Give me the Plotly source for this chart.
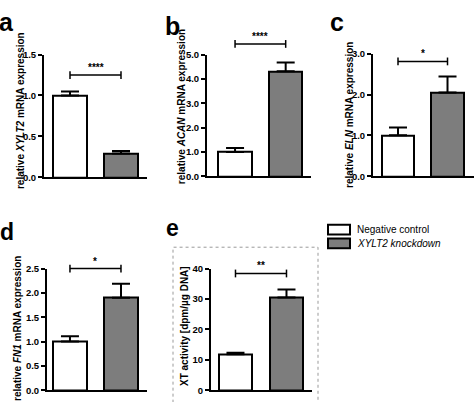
import plotly.graph_objects as go

W, H = 474, 402

# ---------------- data ----------------
groups = ["Negative control", "XYLT2 knockdown"]
group_labels = ["Negative control", "<i>XYLT2 knockdown</i>"]
x_pos = [0, 1]

xylt2_mean = [1.00, 0.29]
xylt2_sem = [0.05, 0.03]
acan_mean = [1.00, 4.32]
acan_sem = [0.16, 0.36]
eln_mean = [1.00, 2.05]
eln_sem = [0.19, 0.39]
fn1_mean = [1.00, 1.90]
fn1_sem = [0.11, 0.29]
xt_mean = [11.8, 30.5]
xt_sem = [0.5, 2.6]

panel_letters = ["a", "b", "c", "d", "e"]
y_titles = [
    "relative <i>XYLT2</i> mRNA expression",
    "relative <i>ACAN</i> mRNA expression",
    "relative <i>ELN</i> mRNA expression",
    "relative <i>FN1</i> mRNA expression",
    "XT activity [dpm/µg DNA]",
]
sig_labels = ["****", "****", "*", "*", "**"]
sig_levels = [1.25, 5.44, 2.81, 2.50, 38.4]
y_max = [1.5, 5.0, 3.0, 2.5, 40]
y_dtick = [0.5, 1.0, 1.0, 0.5, 10]
y_fmt = [".1f", ".1f", ".1f", ".1f", "d"]

means = [xylt2_mean, acan_mean, eln_mean, fn1_mean, xt_mean]
sems = [xylt2_sem, acan_sem, eln_sem, fn1_sem, xt_sem]

colors = ["#ffffff", "#7d7d7d"]

# ---------------- layout geometry (pixels) ----------------
boxes = [
    (44, 147, 50, 176),
    (207, 311, 50, 175),
    (373, 474, 49, 175),
    (47, 147, 270, 395),
    (211, 312, 270, 395),
]
x_ranges = [
    (-0.51, 1.51),
    (-0.554, 1.50),
    (-0.505, 1.535),
    (-0.45, 1.51),
    (-0.48, 1.50),
]
title_pos = [(20, 108), (181, 104), (350, 112), (18, 332), (185, 329)]
letter_pos = [(6, 27, 25), (172, 31, 25), (337, 27, 25), (7, 243, 23), (172, 238, 23)]

FONT = "Liberation Sans"


def px(x):
    return x / W


def py(y):
    return 1 - y / H


def b(s):
    return "<b>" + s + "</b>"


fig = go.Figure()
shapes = []
annotations = []

for i in range(5):
    xl, xr, yt, yb = boxes[i]
    sfx = "" if i == 0 else str(i + 1)
    xa, ya = "x" + sfx, "y" + sfx
    fig.add_trace(go.Bar(
        x=x_pos, y=means[i], width=0.66,
        marker=dict(color=colors, line=dict(color="black", width=2)),
        error_y=dict(type="data", array=sems[i], arrayminus=[0, 0], symmetric=False,
                     color="black", thickness=2, width=9),
        xaxis=xa, yaxis=ya, showlegend=False,
    ))
    fig.layout["xaxis" + sfx] = dict(
        domain=[px(xl), px(xr)], range=list(x_ranges[i]), anchor=ya,
        showline=True, linecolor="black", linewidth=2, showgrid=False,
        zeroline=False, showticklabels=False, ticks="", fixedrange=True,
    )
    fig.layout["yaxis" + sfx] = dict(
        domain=[py(yb), py(yt)], range=[0, y_max[i]], anchor=xa,
        showline=True, linecolor="black", linewidth=2, showgrid=False,
        zeroline=False, ticks="outside", ticklen=4, tickwidth=2, tickcolor="black",
        dtick=y_dtick[i], tick0=0, tickformat=y_fmt[i],
        tickprefix="<b>", ticksuffix="</b>",
        tickfont=dict(family=FONT, size=9.5, color="black"),
        fixedrange=True,
    )

    r0, r1 = x_ranges[i]

    def dx(v, xl=xl, xr=xr, r0=r0, r1=r1):
        return px(xl + (v - r0) / (r1 - r0) * (xr - xl))

    def dy(v, yt=yt, yb=yb, ym=y_max[i]):
        return py(yb - v / ym * (yb - yt))

    lvl = sig_levels[i]
    xa0, xa1 = dx(x_pos[0]), dx(x_pos[1])
    yl = dy(lvl)
    tk = 4 / H
    shapes.append(dict(type="line", xref="paper", yref="paper", x0=xa0, x1=xa1,
                       y0=yl, y1=yl, line=dict(color="black", width=1.5)))
    for xe in (xa0, xa1):
        shapes.append(dict(type="line", xref="paper", yref="paper", x0=xe, x1=xe,
                           y0=yl - tk, y1=yl + tk, line=dict(color="black", width=1.5)))
    annotations.append(dict(text=b(sig_labels[i]), xref="paper", yref="paper",
                            x=(xa0 + xa1) / 2, y=yl, xanchor="center", yanchor="bottom",
                            showarrow=False, yshift=0,
                            font=dict(family=FONT, size=10, color="black")))

    tx, ty = title_pos[i]
    annotations.append(dict(text=b(y_titles[i]), xref="paper", yref="paper",
                            x=px(tx), y=py(ty), xanchor="center", yanchor="middle",
                            textangle=-90, showarrow=False,
                            font=dict(family=FONT, size=10, color="black")))
    lx, lyb, ls = letter_pos[i]
    annotations.append(dict(text=b(panel_letters[i]), xref="paper", yref="paper",
                            x=px(lx), y=py(lyb), xanchor="center", yanchor="bottom",
                            yshift=-0.22 * ls, showarrow=False,
                            font=dict(family=FONT, size=ls, color="black")))

# dotted frame around panel e
shapes.append(dict(type="rect", xref="paper", yref="paper", x0=px(173), x1=px(318),
                   y0=py(410), y1=py(248), line=dict(color="#9a9a9a", width=1, dash="dot")))

# legend
leg_rows = [230, 244]
for j in range(2):
    yc = leg_rows[j]
    shapes.append(dict(type="rect", xref="paper", yref="paper", x0=px(328), x1=px(350),
                       y0=py(yc + 5), y1=py(yc - 5), fillcolor=colors[j],
                       line=dict(color="black", width=2)))
    annotations.append(dict(text=group_labels[j], xref="paper", yref="paper",
                            x=px(355), y=py(yc), xanchor="left", yanchor="middle",
                            showarrow=False,
                            font=dict(family=FONT, size=10, color="black")))

fig.update_layout(
    width=W, height=H, margin=dict(l=0, r=0, t=0, b=0),
    paper_bgcolor="white", plot_bgcolor="white",
    shapes=shapes, annotations=annotations, showlegend=False, bargap=0,
)

fig.write_html("out.html")
